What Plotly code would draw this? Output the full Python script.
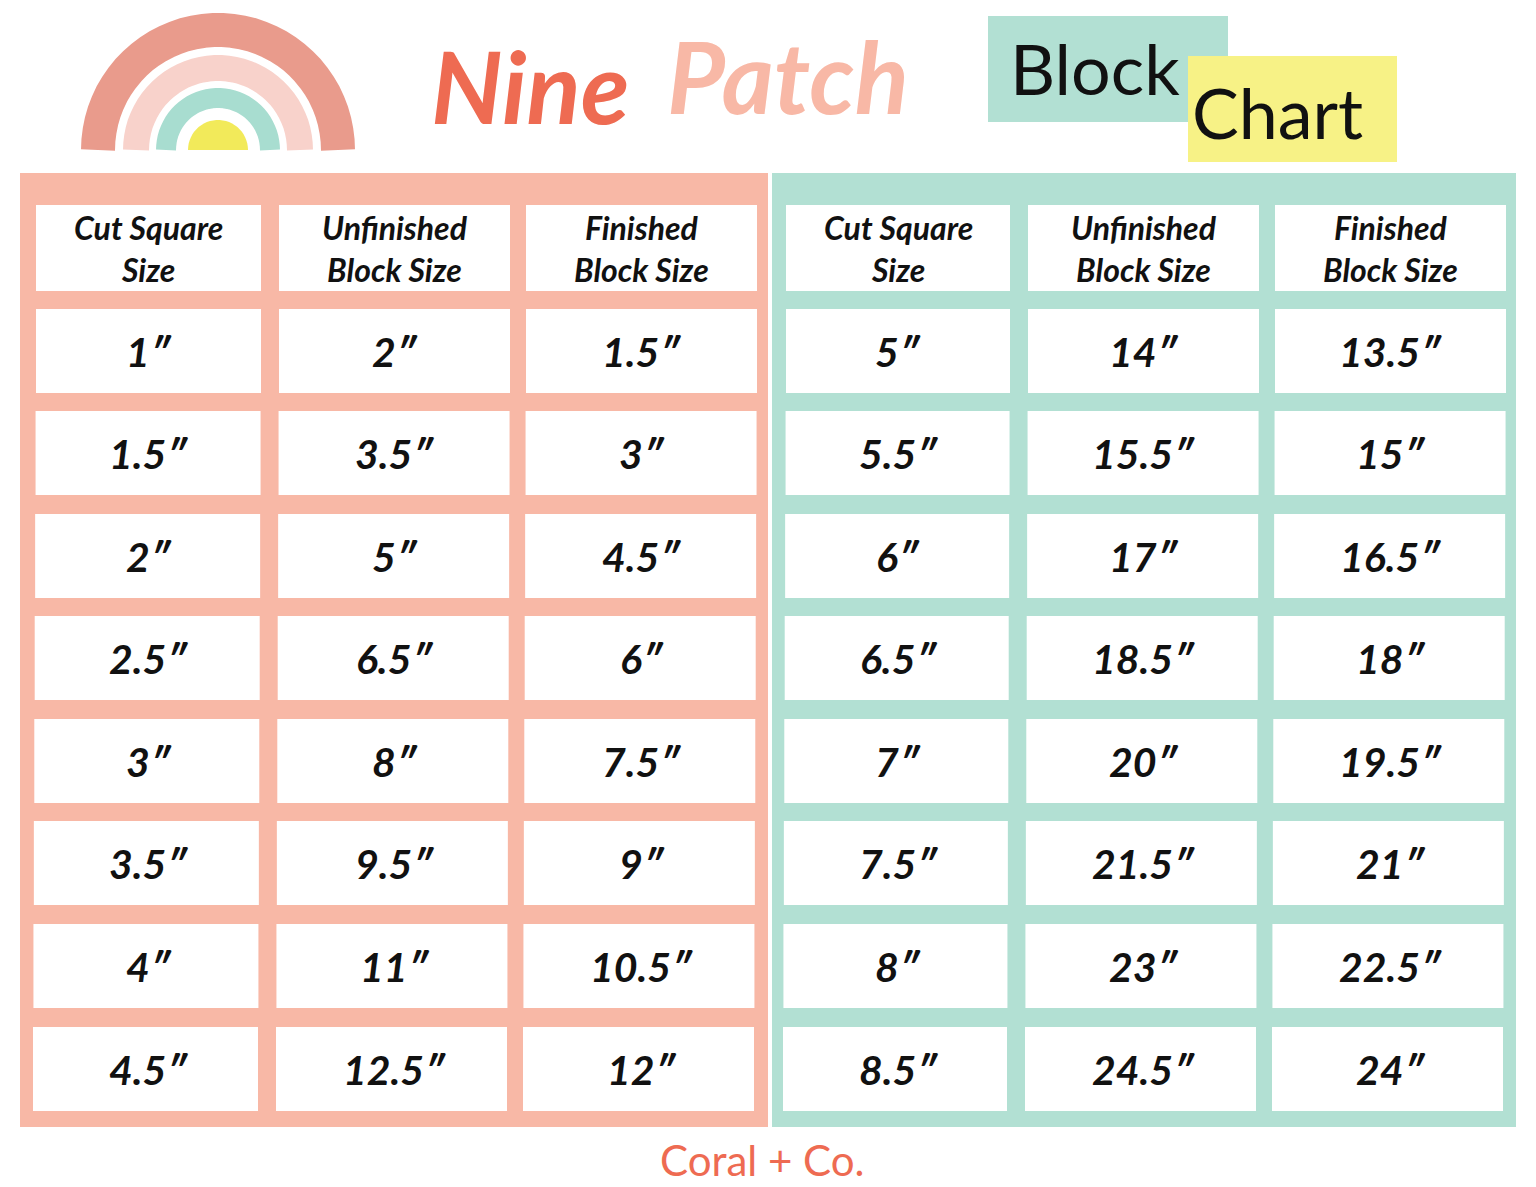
import numpy as np
import plotly.graph_objects as go

# table data
headers = ["Cut Square<br>Size", "Unfinished<br>Block Size", "Finished<br>Block Size"]
left_cut = ["1″", "1.5″", "2″", "2.5″", "3″", "3.5″", "4″", "4.5″"]
left_unfinished = ["2″", "3.5″", "5″", "6.5″", "8″", "9.5″", "11″", "12.5″"]
left_finished = ["1.5″", "3″", "4.5″", "6″", "7.5″", "9″", "10.5″", "12″"]
right_cut = ["5″", "5.5″", "6″", "6.5″", "7″", "7.5″", "8″", "8.5″"]
right_unfinished = ["14″", "15.5″", "17″", "18.5″", "20″", "21.5″", "23″", "24.5″"]
right_finished = ["13.5″", "15″", "16.5″", "18″", "19.5″", "21″", "22.5″", "24″"]

PINK = "#F8B8A6"
TEAL = "#B2E0D3"
CORAL = "#EE6B52"
YELLOW = "#F7F286"
FONT = "Lato"
OFF = 8  # page margin compensation

fig = go.Figure()
shapes = []
ann = []


def rect(x0, y0, x1, y1, color):
    shapes.append(dict(type="rect", x0=x0, y0=y0, x1=x1, y1=y1,
                       fillcolor=color, line=dict(width=0), layer="below"))


def text(x, y, s, size, color="#111", family=FONT, bold=True, italic=True):
    if bold:
        s = f"<b>{s}</b>"
    if italic:
        s = f"<i>{s}</i>"
    ann.append(dict(x=x, y=y, text=s, showarrow=False, xanchor="center", yanchor="middle",
                    font=dict(size=size, color=color, family=family)))


# panels
rect(20, 173, 768, 1127, PINK)
rect(772, 173, 1516, 1127, TEAL)

col_lefts = [[36, 279, 526], [786, 1028, 1275]]
col_rights = [[261, 510, 757], [1010, 1259, 1506]]
row_tops = [309, 411, 514, 616, 719, 821, 924, 1027]
row_h = 84

tables = [[left_cut, left_unfinished, left_finished],
          [right_cut, right_unfinished, right_finished]]

for side in range(2):
    for c in range(3):
        x0, x1 = col_lefts[side][c], col_rights[side][c]
        rect(x0, 205, x1, 291, "white")
        text((x0 + x1) / 2, 248, headers[c], 32)
        for r, top in enumerate(row_tops):
            rect(x0 - 3 * r / 7, top, x1 - 3 * r / 7, top + row_h, "white")
            text((x0 + x1) / 2, top + row_h / 2, tables[side][c][r], 41)

# rainbow
cx, cy = 218, 150
for rad, w, col in [(120, 34, "#E99B8C"), (82, 26, "#F8D2CB"), (52, 20, "#A8DDD0")]:
    t = np.linspace(np.pi, 2 * np.pi, 40)
    pts = " L".join(f"{cx + rad * np.cos(a):.1f},{cy + rad * np.sin(a):.1f}" for a in t)
    shapes.append(dict(type="path", path="M" + pts, line=dict(color=col, width=w)))
t = np.linspace(np.pi, 2 * np.pi, 30)
pts = " L".join(f"{cx + 30 * np.cos(a):.1f},{cy + 30 * np.sin(a):.1f}" for a in t)
shapes.append(dict(type="path", path="M" + pts + " Z", fillcolor="#F2EA5A", line=dict(width=0)))

# title
text(530, 85, "Nine", 100, CORAL, "Lato", True, True)
text(788, 75, "Patch", 100, PINK, "Lato", True, True)
rect(988, 16, 1228, 122, TEAL)
rect(1188, 56, 1397, 162, YELLOW)
text(1095, 68, "Block", 70, "#111", "Lato", False, False)
text(1277, 112, "Chart", 70, "#111", "Lato", False, False)

# footer
text(762, 1160, "Coral + Co.", 42, CORAL, "Lato", False, False)

fig.update_layout(
    width=1536, height=1187, margin=dict(l=0, r=0, t=0, b=0),
    paper_bgcolor="white", plot_bgcolor="white",
    xaxis=dict(range=[OFF, 1536 + OFF], visible=False, fixedrange=True),
    yaxis=dict(range=[1187 + OFF, OFF], visible=False, fixedrange=True),
    shapes=shapes, annotations=ann, showlegend=False,
)
fig.write_html("out.html")
